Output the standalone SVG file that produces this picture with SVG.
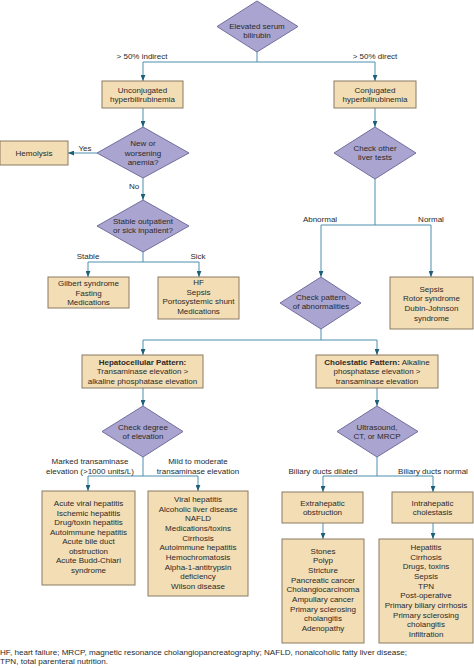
<svg xmlns="http://www.w3.org/2000/svg" width="474" height="668" viewBox="0 0 474 668">
<defs>
<style>
.box{fill:#f2ddb4;stroke:#8a7a62;stroke-width:1}
.dia{fill:#aaa4d0;stroke:#726e9e;stroke-width:1}
.t{font-family:"Liberation Sans",Arial,sans-serif;font-size:8px;fill:#2a2a2a;text-anchor:middle}
.l{font-family:"Liberation Sans",Arial,sans-serif;font-size:8px;fill:#2a2a2a;text-anchor:middle}
.fn{font-family:"Liberation Sans",Arial,sans-serif;font-size:8.1px;fill:#2a2a2a}
.c{fill:none;stroke:#4a8fae;stroke-width:1}
.b{font-weight:bold}
</style>
<marker id="ah" viewBox="0 0 10 8" refX="10" refY="4" markerWidth="6" markerHeight="5" orient="auto" markerUnits="userSpaceOnUse">
<path d="M0,0 L10,4 L0,8 z" fill="#1d5e78"/>
</marker>
</defs>
<rect width="474" height="668" fill="#ffffff"/>

<g id="connectors">
<path class="c" d="M257,52 V62 M143,62 H375"/>
<path class="c" d="M143,62 V81" marker-end="url(#ah)"/>
<path class="c" d="M375,62 V81" marker-end="url(#ah)"/>
<path class="c" d="M143,108 V127" marker-end="url(#ah)"/>
<path class="c" d="M97,153 H68" marker-end="url(#ah)"/>
<path class="c" d="M143,178 V200" marker-end="url(#ah)"/>
<path class="c" d="M143,252 V262 M88,262 H199"/>
<path class="c" d="M88,262 V277" marker-end="url(#ah)"/>
<path class="c" d="M199,262 V277" marker-end="url(#ah)"/>
<path class="c" d="M375,108 V127" marker-end="url(#ah)"/>
<path class="c" d="M375,179 V225 M321,225 H431"/>
<path class="c" d="M321,225 V277" marker-end="url(#ah)"/>
<path class="c" d="M431,225 V277" marker-end="url(#ah)"/>
<path class="c" d="M321,329 V340 M143,340 H377"/>
<path class="c" d="M143,340 V355" marker-end="url(#ah)"/>
<path class="c" d="M377,340 V355" marker-end="url(#ah)"/>
<path class="c" d="M143,388 V406" marker-end="url(#ah)"/>
<path class="c" d="M377,388 V406" marker-end="url(#ah)"/>
<path class="c" d="M143,457 V476 M88,476 H198"/>
<path class="c" d="M88,476 V491" marker-end="url(#ah)"/>
<path class="c" d="M198,476 V491" marker-end="url(#ah)"/>
<path class="c" d="M377,457 V476 M323,476 H433"/>
<path class="c" d="M323,476 V492" marker-end="url(#ah)"/>
<path class="c" d="M433,476 V492" marker-end="url(#ah)"/>
<path class="c" d="M323,523 V539" marker-end="url(#ah)"/>
<path class="c" d="M433,523 V539" marker-end="url(#ah)"/>
</g>

<g id="edge-labels">
<text class="l" x="142" y="59">&gt; 50% indirect</text>
<text class="l" x="375" y="59">&gt; 50% direct</text>
<text class="l" x="85" y="151">Yes</text>
<text class="l" x="134" y="189">No</text>
<text class="l" x="88" y="259">Stable</text>
<text class="l" x="198" y="259">Sick</text>
<text class="l" x="320" y="222">Abnormal</text>
<text class="l" x="431" y="222">Normal</text>
<text class="l" x="90" y="464">Marked transaminase</text>
<text class="l" x="90" y="474">elevation (&gt;1000 units/L)</text>
<text class="l" x="198" y="464">Mild to moderate</text>
<text class="l" x="198" y="474">transaminase elevation</text>
<text class="l" x="323" y="474">Biliary ducts dilated</text>
<text class="l" x="433" y="474">Biliary ducts normal</text>
</g>

<g id="n-elevated">
<polygon class="dia" points="257,1 298,26.5 257,52 217,26.5"/>
<text class="t" x="257" y="28.5">Elevated serum</text>
<text class="t" x="257" y="38">bilirubin</text>
</g>

<g id="n-unconj">
<rect class="box" x="102" y="81" width="81" height="27"/>
<text class="t" x="142.5" y="92.5">Unconjugated</text>
<text class="t" x="142.5" y="102">hyperbilirubinemia</text>
</g>

<g id="n-conj">
<rect class="box" x="334" y="81" width="82" height="27"/>
<text class="t" x="375" y="92.5">Conjugated</text>
<text class="t" x="375" y="102">hyperbilirubinemia</text>
</g>

<g id="n-anemia">
<polygon class="dia" points="143,127 189,153 143,178 97,153"/>
<text class="t" x="143" y="146">New or</text>
<text class="t" x="143" y="155.5">worsening</text>
<text class="t" x="143" y="165">anemia?</text>
</g>

<g id="n-hemolysis">
<rect class="box" x="0" y="141" width="68" height="24"/>
<text class="t" x="34" y="156">Hemolysis</text>
</g>

<g id="n-stable">
<polygon class="dia" points="143,200 189,226 143,252 97,226"/>
<text class="t" x="143" y="223.5">Stable outpatient</text>
<text class="t" x="143" y="233">or sick inpatient?</text>
</g>

<g id="n-gilbert">
<rect class="box" x="48" y="277" width="81" height="31"/>
<text class="t" x="88.5" y="286">Gilbert syndrome</text>
<text class="t" x="88.5" y="295.5">Fasting</text>
<text class="t" x="88.5" y="305">Medications</text>
</g>

<g id="n-hf">
<rect class="box" x="158" y="277" width="81" height="42"/>
<text class="t" x="198.5" y="285">HF</text>
<text class="t" x="198.5" y="294.5">Sepsis</text>
<text class="t" x="198.5" y="304">Portosystemic shunt</text>
<text class="t" x="198.5" y="314">Medications</text>
</g>

<g id="n-checkother">
<polygon class="dia" points="375,127 416,153 375,179 334,153"/>
<text class="t" x="375" y="150.5">Check other</text>
<text class="t" x="375" y="160">liver tests</text>
</g>

<g id="n-checkpattern">
<polygon class="dia" points="321,277 361,303 321,329 280,303"/>
<text class="t" x="321" y="299.5">Check pattern</text>
<text class="t" x="321" y="309">of abnormalities</text>
</g>

<g id="n-sepsis">
<rect class="box" x="390" y="277" width="83" height="52"/>
<text class="t" x="431.5" y="291.5">Sepsis</text>
<text class="t" x="431.5" y="301">Rotor syndrome</text>
<text class="t" x="431.5" y="311">Dubin-Johnson</text>
<text class="t" x="431.5" y="320.5">syndrome</text>
</g>

<g id="n-hepatocellular">
<rect class="box" x="82" y="355" width="121" height="33"/>
<text class="t b" x="142.5" y="364.5">Hepatocellular Pattern:</text>
<text class="t" x="142.5" y="374">Transaminase elevation &gt;</text>
<text class="t" x="142.5" y="383.5">alkaline phosphatase elevation</text>
</g>

<g id="n-cholestatic">
<rect class="box" x="316" y="355" width="122" height="33"/>
<text class="t" x="377" y="364.5"><tspan class="b">Cholestatic Pattern:</tspan> Alkaline</text>
<text class="t" x="377" y="374">phosphatase elevation &gt;</text>
<text class="t" x="377" y="383.5">transaminase elevation</text>
</g>

<g id="n-checkdegree">
<polygon class="dia" points="143,406 183,431.5 143,457 102,431.5"/>
<text class="t" x="143" y="429.5">Check degree</text>
<text class="t" x="143" y="439">of elevation</text>
</g>

<g id="n-ultrasound">
<polygon class="dia" points="377,406 418,431.5 377,457 337,431.5"/>
<text class="t" x="377" y="429.5">Ultrasound,</text>
<text class="t" x="377" y="439">CT, or MRCP</text>
</g>

<g id="n-marked">
<rect class="box" x="42" y="491" width="93" height="94"/>
<text class="t" x="88.5" y="506">Acute viral hepatitis</text>
<text class="t" x="88.5" y="515.5">Ischemic hepatitis</text>
<text class="t" x="88.5" y="525">Drug/toxin hepatitis</text>
<text class="t" x="88.5" y="534.5">Autoimmune hepatitis</text>
<text class="t" x="88.5" y="544">Acute bile duct</text>
<text class="t" x="88.5" y="553.5">obstruction</text>
<text class="t" x="88.5" y="563">Acute Budd-Chiari</text>
<text class="t" x="88.5" y="572.5">syndrome</text>
</g>

<g id="n-mild">
<rect class="box" x="148" y="491" width="100" height="105"/>
<text class="t" x="198" y="502">Viral hepatitis</text>
<text class="t" x="198" y="511.5">Alcoholic liver disease</text>
<text class="t" x="198" y="521">NAFLD</text>
<text class="t" x="198" y="530.5">Medications/toxins</text>
<text class="t" x="198" y="540.5">Cirrhosis</text>
<text class="t" x="198" y="550">Autoimmune hepatitis</text>
<text class="t" x="198" y="559.5">Hemochromatosis</text>
<text class="t" x="198" y="569.5">Alpha-1-antitrypsin</text>
<text class="t" x="198" y="579">deficiency</text>
<text class="t" x="198" y="588.5">Wilson disease</text>
</g>

<g id="n-extrahepatic">
<rect class="box" x="282" y="492" width="81" height="31"/>
<text class="t" x="322.5" y="505.5">Extrahepatic</text>
<text class="t" x="322.5" y="515">obstruction</text>
</g>

<g id="n-intrahepatic">
<rect class="box" x="392" y="492" width="81" height="31"/>
<text class="t" x="432.5" y="505.5">Intrahepatic</text>
<text class="t" x="432.5" y="515">cholestasis</text>
</g>

<g id="n-stones">
<rect class="box" x="282" y="539" width="82" height="104"/>
<text class="t" x="323" y="553.5">Stones</text>
<text class="t" x="323" y="563">Polyp</text>
<text class="t" x="323" y="572.5">Stricture</text>
<text class="t" x="323" y="582.5">Pancreatic cancer</text>
<text class="t" x="323" y="592">Cholangiocarcinoma</text>
<text class="t" x="323" y="602">Ampullary cancer</text>
<text class="t" x="323" y="611.5">Primary sclerosing</text>
<text class="t" x="323" y="621">cholangitis</text>
<text class="t" x="323" y="631">Adenopathy</text>
</g>

<g id="n-hepatitis">
<rect class="box" x="379" y="539" width="94" height="104"/>
<text class="t" x="426" y="550">Hepatitis</text>
<text class="t" x="426" y="559.5">Cirrhosis</text>
<text class="t" x="426" y="569">Drugs, toxins</text>
<text class="t" x="426" y="578.5">Sepsis</text>
<text class="t" x="426" y="588.5">TPN</text>
<text class="t" x="426" y="598">Post-operative</text>
<text class="t" x="426" y="608">Primary biliary cirrhosis</text>
<text class="t" x="426" y="617.5">Primary sclerosing</text>
<text class="t" x="426" y="627">cholangitis</text>
<text class="t" x="426" y="636.5">Infiltration</text>
</g>

<g id="footnote">
<text class="fn" x="0" y="654.5">HF, heart failure; MRCP, magnetic resonance cholangiopancreatography; NAFLD, nonalcoholic fatty liver disease;</text>
<text class="fn" x="0" y="663.5">TPN, total parenteral nutrition.</text>
</g>
</svg>
